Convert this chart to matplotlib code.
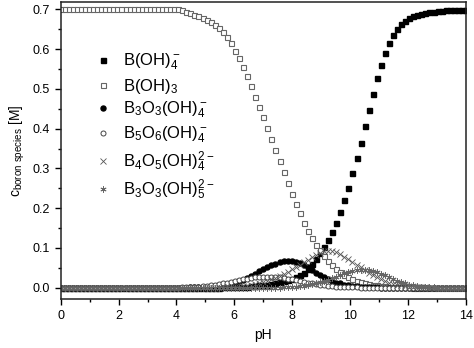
import numpy as np
import matplotlib
matplotlib.use("Agg")
import matplotlib.pyplot as plt

plt.rcParams["font.family"] = ["Liberation Sans", "DejaVu Sans"]
plt.rcParams["mathtext.fontset"] = "custom"
plt.rcParams["mathtext.rm"] = "Liberation Sans"
plt.rcParams["mathtext.default"] = "regular"

# pH grid of the speciation calculation
ph = np.linspace(0, 14, 101)

# Species concentrations [M]
b_oh4 = [
    0.000, 0.000, 0.000, 0.000, 0.000, 0.000, 0.000, 0.000, 0.000, 0.000,
    0.000, 0.000, 0.000, 0.000, 0.000, 0.000, 0.000, 0.000, 0.000, 0.000,
    0.000, 0.000, 0.000, 0.000, 0.000, 0.000, 0.000, 0.000, 0.000, 0.000,
    0.000, 0.000, 0.000, 0.000, 0.000, 0.000, 0.000, 0.000, 0.000, 0.000,
    0.001, 0.001, 0.001, 0.002, 0.002, 0.003, 0.003, 0.004, 0.005, 0.006,
    0.007, 0.008, 0.010, 0.012, 0.014, 0.016, 0.019, 0.022, 0.026, 0.031,
    0.038, 0.048, 0.060, 0.073, 0.087, 0.103, 0.121, 0.141, 0.164, 0.191,
    0.220, 0.252, 0.288, 0.325, 0.365, 0.407, 0.448, 0.487, 0.526, 0.559,
    0.589, 0.615, 0.635, 0.651, 0.663, 0.671, 0.677, 0.682, 0.686, 0.689,
    0.691, 0.693, 0.694, 0.695, 0.696, 0.697, 0.698, 0.698, 0.699, 0.699,
    0.699,
]
b_oh3 = [
    0.700, 0.700, 0.700, 0.700, 0.700, 0.700, 0.700, 0.700, 0.700, 0.700,
    0.700, 0.700, 0.700, 0.700, 0.700, 0.700, 0.700, 0.700, 0.700, 0.700,
    0.700, 0.700, 0.700, 0.700, 0.700, 0.700, 0.700, 0.700, 0.700, 0.700,
    0.698, 0.694, 0.690, 0.686, 0.682, 0.678, 0.674, 0.668, 0.661, 0.653,
    0.642, 0.630, 0.615, 0.596, 0.577, 0.556, 0.532, 0.506, 0.480, 0.455,
    0.428, 0.401, 0.374, 0.346, 0.319, 0.290, 0.263, 0.236, 0.210, 0.187,
    0.163, 0.143, 0.124, 0.107, 0.094, 0.080, 0.067, 0.057, 0.047, 0.040,
    0.033, 0.028, 0.022, 0.018, 0.015, 0.012, 0.010, 0.008, 0.006, 0.005,
    0.004, 0.003, 0.002, 0.002, 0.001, 0.001, 0.001, 0.000, 0.000, 0.000,
    0.000, 0.000, 0.000, 0.000, 0.000, 0.000, 0.000, 0.000, 0.000, 0.000,
    0.000,
]
b3o3_oh4 = [
    0.000, 0.000, 0.000, 0.000, 0.000, 0.000, 0.000, 0.000, 0.000, 0.000,
    0.000, 0.000, 0.000, 0.000, 0.000, 0.000, 0.000, 0.000, 0.000, 0.000,
    0.000, 0.000, 0.000, 0.000, 0.000, 0.000, 0.000, 0.000, 0.000, 0.000,
    0.000, 0.000, 0.001, 0.001, 0.001, 0.002, 0.002, 0.003, 0.004, 0.005,
    0.006, 0.008, 0.010, 0.013, 0.016, 0.020, 0.025, 0.030, 0.035, 0.041,
    0.047, 0.052, 0.057, 0.061, 0.064, 0.067, 0.068, 0.068, 0.066, 0.063,
    0.058, 0.052, 0.045, 0.038, 0.032, 0.026, 0.021, 0.017, 0.013, 0.011,
    0.008, 0.007, 0.005, 0.004, 0.003, 0.002, 0.002, 0.001, 0.001, 0.000,
    0.000, 0.000, 0.000, 0.000, 0.000, 0.000, 0.000, 0.000, 0.000, 0.000,
    0.000, 0.000, 0.000, 0.000, 0.000, 0.000, 0.000, 0.000, 0.000, 0.000,
    0.000,
]
b5o6_oh4 = [
    0.000, 0.000, 0.000, 0.000, 0.000, 0.000, 0.000, 0.000, 0.000, 0.000,
    0.000, 0.000, 0.000, 0.000, 0.000, 0.000, 0.000, 0.000, 0.000, 0.000,
    0.000, 0.000, 0.000, 0.000, 0.000, 0.000, 0.000, 0.000, 0.000, 0.000,
    0.001, 0.001, 0.002, 0.002, 0.003, 0.004, 0.005, 0.006, 0.008, 0.009,
    0.011, 0.013, 0.015, 0.017, 0.019, 0.021, 0.023, 0.025, 0.026, 0.027,
    0.028, 0.028, 0.028, 0.027, 0.026, 0.025, 0.023, 0.021, 0.019, 0.017,
    0.015, 0.013, 0.011, 0.009, 0.008, 0.006, 0.005, 0.004, 0.003, 0.003,
    0.002, 0.002, 0.001, 0.001, 0.000, 0.000, 0.000, 0.000, 0.000, 0.000,
    0.000, 0.000, 0.000, 0.000, 0.000, 0.000, 0.000, 0.000, 0.000, 0.000,
    0.000, 0.000, 0.000, 0.000, 0.000, 0.000, 0.000, 0.000, 0.000, 0.000,
    0.000,
]
b4o5_oh4 = [
    0.000, 0.000, 0.000, 0.000, 0.000, 0.000, 0.000, 0.000, 0.000, 0.000,
    0.000, 0.000, 0.000, 0.000, 0.000, 0.000, 0.000, 0.000, 0.000, 0.000,
    0.000, 0.000, 0.000, 0.000, 0.000, 0.000, 0.000, 0.000, 0.000, 0.000,
    0.000, 0.000, 0.000, 0.000, 0.000, 0.000, 0.000, 0.000, 0.000, 0.000,
    0.001, 0.001, 0.002, 0.002, 0.003, 0.004, 0.005, 0.007, 0.009, 0.011,
    0.014, 0.017, 0.021, 0.025, 0.029, 0.034, 0.040, 0.046, 0.052, 0.058,
    0.065, 0.071, 0.077, 0.083, 0.088, 0.092, 0.093, 0.092, 0.089, 0.084,
    0.078, 0.072, 0.065, 0.058, 0.051, 0.044, 0.038, 0.032, 0.026, 0.021,
    0.017, 0.013, 0.010, 0.008, 0.006, 0.004, 0.003, 0.002, 0.002, 0.001,
    0.001, 0.000, 0.000, 0.000, 0.000, 0.000, 0.000, 0.000, 0.000, 0.000,
    0.000,
]
b3o3_oh5 = [
    0.000, 0.000, 0.000, 0.000, 0.000, 0.000, 0.000, 0.000, 0.000, 0.000,
    0.000, 0.000, 0.000, 0.000, 0.000, 0.000, 0.000, 0.000, 0.000, 0.000,
    0.000, 0.000, 0.000, 0.000, 0.000, 0.000, 0.000, 0.000, 0.000, 0.000,
    0.000, 0.000, 0.000, 0.000, 0.000, 0.000, 0.000, 0.000, 0.000, 0.000,
    0.000, 0.000, 0.000, 0.000, 0.000, 0.000, 0.000, 0.000, 0.000, 0.000,
    0.000, 0.000, 0.000, 0.000, 0.000, 0.001, 0.002, 0.002, 0.003, 0.004,
    0.005, 0.007, 0.009, 0.011, 0.014, 0.017, 0.020, 0.024, 0.028, 0.032,
    0.036, 0.039, 0.042, 0.044, 0.045, 0.045, 0.044, 0.042, 0.039, 0.035,
    0.031, 0.027, 0.022, 0.018, 0.014, 0.011, 0.008, 0.006, 0.004, 0.003,
    0.002, 0.001, 0.001, 0.000, 0.000, 0.000, 0.000, 0.000, 0.000, 0.000,
    0.000,
]

labels = [
    "B(OH)$_4^-$",
    "B(OH)$_3$",
    "B$_3$O$_3$(OH)$_4^-$",
    "B$_5$O$_6$(OH)$_4^-$",
    "B$_4$O$_5$(OH)$_4^{2-}$",
    "B$_3$O$_3$(OH)$_5^{2-}$",
]

fig = plt.figure(figsize=(4.74, 3.48), dpi=100)
ax = fig.add_axes([0.128, 0.141, 0.855, 0.853])

ms = 3.6
ax.plot(ph, b_oh4, ls="none", marker="s", ms=ms, mfc="black", mec="black", label=labels[0])
ax.plot(ph, b_oh3, ls="none", marker="s", ms=ms, mfc="white", mec="#666666", mew=0.8, label=labels[1])
ax.plot(ph, b3o3_oh4, ls="none", marker="o", ms=ms, mfc="black", mec="black", label=labels[2])
ax.plot(ph, b5o6_oh4, ls="none", marker="o", ms=ms, mfc="white", mec="#444444", mew=0.7, label=labels[3])
ax.plot(ph, b4o5_oh4, ls="none", marker="x", ms=ms + 0.5, mec="#555555", mew=0.6, label=labels[4])
ax.plot(ph, b3o3_oh5, ls="none", marker=(6, 2, 0), ms=ms + 0.8, mec="#666666", mew=0.6, label=labels[5])

ax.set_xlim(0, 14)
ax.set_ylim(-0.028, 0.718)
ax.set_xticks(np.arange(0, 15, 2))
ax.set_xticks(np.arange(0, 15, 1), minor=True)
ax.set_yticks(np.arange(0, 0.71, 0.1))
ax.set_yticks(np.arange(0, 0.71, 0.05), minor=True)
ax.yaxis.set_major_formatter(matplotlib.ticker.FormatStrFormatter("%.1f"))
ax.tick_params(which="major", direction="out", length=4.5, width=1, labelsize=9)
ax.tick_params(which="minor", direction="out", length=2.5, width=1)
for sp in ax.spines.values():
    sp.set_linewidth(1.1)
    sp.set_color("#222222")

ax.set_xlabel("pH", fontsize=10)
ax.set_ylabel(r"c$_{boron\ species}$ [M]", fontsize=10)

ax.legend(loc="upper left", bbox_to_anchor=(0.06, 0.86), frameon=False,
          fontsize=12, handletextpad=0.6, labelspacing=0.25, borderpad=0,
          handlelength=1.2, markerscale=1.0)

fig.savefig("out.png", dpi=100)
